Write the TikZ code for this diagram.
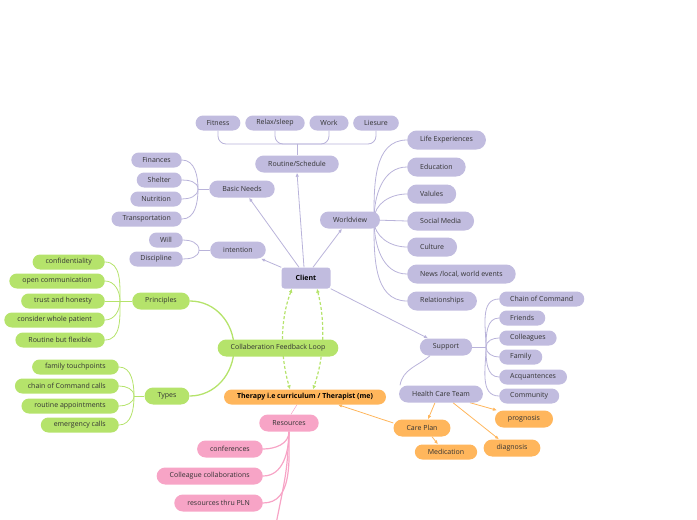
\documentclass[tikz,border=0pt]{standalone}
\usepackage{fontspec}
\setmainfont{Open Sans}
\usetikzlibrary{arrows.meta, backgrounds}

\definecolor{lav}{HTML}{C1BCDF}
\definecolor{lavline}{HTML}{B9B3DA}
\definecolor{lime}{HTML}{B5E36B}
\definecolor{peach}{HTML}{FFB65C}
\definecolor{rose}{HTML}{F7A4C6}
\definecolor{ink}{HTML}{333333}

\begin{document}
\begin{tikzpicture}[x=1pt, y=-1pt,
  box/.style={rounded corners=7.5pt, minimum height=15pt, inner xsep=13pt, inner ysep=0pt, text=ink, font=\fontsize{7}{8}\selectfont},
  big/.style={box, rounded corners=8.5pt, minimum height=17pt},
  pbox/.style={box, fill=lav, inner xsep=11pt},
  pbig/.style={big, fill=lav},
  gbox/.style={box, fill=lime},
  gbig/.style={big, fill=lime},
  obig/.style={big, fill=peach},
  rbig/.style={big, fill=rose},
  plink/.style={draw=lavline, line width=0.8pt},
  parrow/.style={plink, -{Latex[length=4pt, width=3.5pt]}},
  glink/.style={draw=lime, line width=0.8pt},
  gthick/.style={draw=lime, line width=1.3pt},
  gloop/.style={draw=lime, line width=1.2pt, dash pattern=on 3pt off 2pt, {Latex[length=4pt, width=4pt]}-{Latex[length=4pt, width=4pt]}},
  oarrow/.style={draw=peach, line width=0.8pt, -{Latex[length=4pt, width=3.5pt]}},
  rlink/.style={draw=rose, line width=1.2pt}]
\useasboundingbox (0,0) rectangle (697,520);

\node[pbox] (fitness) at (218,123) {Fitness};
\node[pbox] (relax) at (275,123) {Relax/sleep};
\node[pbox] (work) at (329,123) {Work};
\node[pbox] (liesure) at (376,123) {Liesure};
\node[pbig] (routine) at (297,164) {Routine/Schedule};
\node[pbig] (basic) at (242,189) {Basic Needs};
\node[pbox, anchor=east] (finances) at (182,160) {Finances};
\node[pbox, anchor=east] (shelter) at (182,180) {Shelter};
\node[pbox, anchor=east] (nutrition) at (182,199) {Nutrition};
\node[pbox, anchor=east] (transport) at (182,219) {Transportation};
\node[pbig] (intention) at (238,250) {intention};
\node[pbox, anchor=east] (will) at (183,240) {Will};
\node[pbox, anchor=east] (discipline) at (183,259) {Discipline};
\node[box, fill=lav, rounded corners=3pt, minimum width=49pt, minimum height=21pt, font=\fontsize{7}{8}\selectfont\bfseries, text=black] (client) at (306,278) {Client};

\node[pbig] (worldview) at (350,220) {Worldview};
\node[pbig, minimum height=19pt, rounded corners=9.5pt, anchor=west] (life) at (407,140) {Life Experiences};
\node[pbig, minimum height=19pt, rounded corners=9.5pt, anchor=west] (education) at (407,167) {Education};
\node[pbig, minimum height=19pt, rounded corners=9.5pt, anchor=west] (valules) at (407,194) {Valules};
\node[pbig, minimum height=19pt, rounded corners=9.5pt, anchor=west] (social) at (407,221) {Social Media};
\node[pbig, minimum height=19pt, rounded corners=9.5pt, anchor=west] (culture) at (407,247) {Culture};
\node[pbig, minimum height=19pt, rounded corners=9.5pt, anchor=west] (news) at (407,274) {News /local, world events};
\node[pbig, minimum height=19pt, rounded corners=9.5pt, anchor=west] (relations) at (407,301) {Relationships};

\node[pbig] (support) at (446,347) {Support};
\node[pbox, anchor=west] (chain) at (499,299) {Chain of Command};
\node[pbox, anchor=west] (friends) at (499,318) {Friends};
\node[pbox, anchor=west] (colleagues) at (499,338) {Colleagues};
\node[pbox, anchor=west] (family) at (499,357) {Family};
\node[pbox, anchor=west] (acq) at (499,377) {Acquantences};
\node[pbox, anchor=west] (community) at (499,396) {Community};
\node[pbig] (hct) at (441,394) {Health Care Team};

\node[obig] (prognosis) at (524,419) {prognosis};
\node[obig] (diagnosis) at (512,448) {diagnosis};
\node[obig] (careplan) at (422,428) {Care Plan};
\node[obig, minimum height=15pt, rounded corners=7.5pt] (medication) at (446,452) {Medication};
\node[obig, minimum height=15pt, rounded corners=7.5pt, font=\fontsize{7}{8}\selectfont\bfseries, text=black] (therapy) at (305,397) {Therapy i.e curriculum / Therapist (me)};

\node[rbig] (resources) at (289,423) {Resources};
\node[rbig, anchor=east] (conferences) at (263,449) {conferences};
\node[rbig, anchor=east] (collabs) at (263,476) {Colleague collaborations};
\node[rbig, anchor=east] (pln) at (263,503) {resources thru PLN};
\coordinate (rend) at (276,524);

\node[gbig] (collab) at (278,348) {Collaberation Feedback Loop};
\node[gbig] (principles) at (161,301) {Principles};
\node[gbox, anchor=east] (confid) at (105,262) {confidentiality};
\node[gbox, anchor=east] (opencom) at (105,281) {open communication};
\node[gbox, anchor=east] (trust) at (105,301) {trust and honesty};
\node[gbox, anchor=east] (whole) at (105,320) {consider whole patient};
\node[gbox, anchor=east] (flexible) at (105,340) {Routine but flexible};
\node[gbig] (types) at (167,396) {Types};
\node[gbox, anchor=east] (touch) at (119,367) {family touchpoints};
\node[gbox, anchor=east] (chaincalls) at (119,386) {chain of Command calls};
\node[gbox, anchor=east] (appoint) at (119,406) {routine appointments};
\node[gbox, anchor=east] (emergency) at (119,425) {emergency calls};

\coordinate (rj) at (297,144);
\coordinate (bj) at (198,189);
\coordinate (ij) at (199,250);
\coordinate (wj) at (374,220);
\coordinate (sj) at (486,347);
\coordinate (pj) at (120,301);
\coordinate (tj) at (134,396);
\coordinate (cj) at (234,348);

\begin{scope}[on background layer]
\draw[plink] (routine.north) -- (rj);
\draw[plink, rounded corners=8pt] (fitness.south) |- (rj);
\draw[plink, rounded corners=8pt] (relax.south) |- (rj);
\draw[plink, rounded corners=8pt] (work.south) |- (rj);
\draw[plink, rounded corners=8pt] (liesure.south) |- (rj);

\draw[plink] (basic.west) -- (bj);
\draw[plink] (bj) to[out=90, in=0] (finances.east);
\draw[plink] (bj) to[out=90, in=0] (shelter.east);
\draw[plink] (bj) to[out=-90, in=0] (nutrition.east);
\draw[plink] (bj) to[out=-90, in=0] (transport.east);

\draw[plink] (intention.west) -- (ij);
\draw[plink] (ij) to[out=90, in=0] (will.east);
\draw[plink] (ij) to[out=-90, in=0] (discipline.east);

\draw[plink] (wj) to[out=90, in=180] (life.west);
\draw[plink] (wj) to[out=90, in=180] (education.west);
\draw[plink] (wj) to[out=90, in=180] (valules.west);
\draw[plink] (wj) -- (social.west);
\draw[plink] (wj) to[out=-90, in=180] (culture.west);
\draw[plink] (wj) to[out=-90, in=180] (news.west);
\draw[plink] (wj) to[out=-90, in=180] (relations.west);

\draw[plink] (support.east) -- (sj);
\draw[plink] (sj) to[out=90, in=180] (chain.west);
\draw[plink] (sj) to[out=90, in=180] (friends.west);
\draw[plink] (sj) to[out=90, in=180] (colleagues.west);
\draw[plink] (sj) to[out=-90, in=180] (family.west);
\draw[plink] (sj) to[out=-90, in=180] (acq.west);
\draw[plink] (sj) to[out=-90, in=180] (community.west);
\draw[plink] ([xshift=-16pt]support.south) to[out=-140, in=80] ([xshift=-41pt]hct.north);

\draw[parrow] ([xshift=-2pt]client.north) -- (routine.south);
\draw[parrow] ([xshift=-7pt]client.north) -- ([xshift=7pt]basic.south);
\draw[parrow] (client.north west) -- ([xshift=23pt]intention.south);
\draw[parrow] ([xshift=7pt]client.north) -- ([xshift=-8pt]worldview.south);
\draw[parrow] (client.south east) -- ([xshift=-18pt]support.north);

\draw[oarrow] ([xshift=-6pt]hct.south) -- ([xshift=6pt]careplan.north);
\draw[oarrow] ([xshift=29pt]hct.south) -- ([xshift=-27pt]prognosis.north);
\draw[oarrow] ([xshift=12pt]hct.south) -- ([xshift=-13pt]diagnosis.north);
\draw[oarrow] ([xshift=10pt]careplan.south) -- ([xshift=-8pt]medication.north);
\draw[oarrow] ([yshift=5pt]careplan.west) -- ([xshift=33pt]therapy.south);

\draw[draw=rose, line width=0.5pt] ([xshift=-8pt]therapy.south) -- ([xshift=2pt]resources.north);
\draw[rlink] (resources.south) to[out=-90, in=0] (conferences.east);
\draw[rlink] (resources.south) to[out=-90, in=0] (collabs.east);
\draw[rlink] (resources.south) to[out=-90, in=0] (pln.east);
\draw[rlink] (resources.south) .. controls (287,470) .. (rend);

\draw[gthick] (cj) to[out=90, in=0] (principles.east);
\draw[gthick] (cj) to[out=-90, in=0] (types.east);
\draw[glink] (principles.west) -- (pj);
\draw[glink] (pj) to[out=90, in=0] (confid.east);
\draw[glink] (pj) to[out=90, in=0] (opencom.east);
\draw[glink] (pj) -- (trust.east);
\draw[glink] (pj) to[out=-90, in=0] (whole.east);
\draw[glink] (pj) to[out=-90, in=0] (flexible.east);
\draw[glink] (types.west) -- (tj);
\draw[glink] (tj) to[out=90, in=0] (touch.east);
\draw[glink] (tj) to[out=90, in=0] (chaincalls.east);
\draw[glink] (tj) to[out=-90, in=0] (appoint.east);
\draw[glink] (tj) to[out=-90, in=0] (emergency.east);

\draw[gloop] ([xshift=-14pt]client.south) .. controls (280,320) and (280,355) .. ([xshift=-15pt]therapy.north);
\draw[gloop] ([xshift=11pt]client.south) .. controls (325,320) and (325,355) .. ([xshift=8pt]therapy.north);
\end{scope}
\end{tikzpicture}
\end{document}
